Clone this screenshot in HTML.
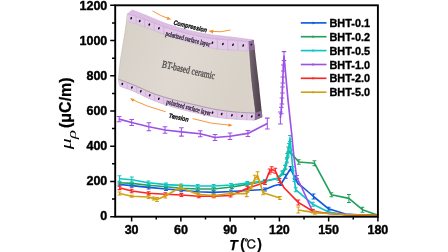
<!DOCTYPE html>
<html><head><meta charset="utf-8"><title>BHT flexoelectric chart</title>
<style>html,body{margin:0;padding:0;background:#fff;overflow:hidden}body{width:448px;height:252px;position:relative}</style>
</head><body>
<svg width="448" height="252" viewBox="0 0 448 252" style="position:absolute;left:0;top:0;display:block;filter:blur(0.3px)">
<rect width="448" height="252" fill="#fff"/>
<defs><linearGradient id="gg" x1="0" y1="0" x2="1" y2="0.3"><stop offset="0" stop-color="#d6cfc6"/><stop offset="0.55" stop-color="#dfd9d1"/><stop offset="1" stop-color="#d8d2c9"/></linearGradient><linearGradient id="sg" x1="0" y1="0" x2="1" y2="0"><stop offset="0" stop-color="#7c6d78"/><stop offset="0.6" stop-color="#5a4c57"/><stop offset="1" stop-color="#4b3f49"/></linearGradient></defs>
<path d="M131.9,9.8C134.5,10.8 142.3,13.8 147.7,15.9C153.0,18.1 159.1,20.8 164.0,22.7C168.9,24.6 172.8,25.7 177.0,27.0C181.2,28.3 184.2,29.2 189.4,30.4C194.6,31.6 202.9,33.3 208.0,34.2C213.1,35.1 215.8,35.3 220.0,35.8C224.2,36.3 227.8,36.6 233.4,37.3C239.0,38.0 250.3,39.5 253.7,39.9L248.0,41.8C245.6,41.5 238.1,40.6 233.4,40.2C228.7,39.8 224.2,39.7 220.0,39.3C215.8,38.9 213.1,38.9 208.0,38.0C202.9,37.1 195.4,35.5 189.4,34.0C183.4,32.5 177.2,30.9 172.0,29.3C166.8,27.7 163.0,26.4 157.9,24.5C152.8,22.6 146.5,20.0 141.4,18.2C136.3,16.4 129.7,14.5 127.3,13.8Z" fill="#ddbde3"/>
<path d="M127.4,21.2C129.7,21.9 136.3,23.9 141.4,25.7C146.5,27.5 152.8,30.1 157.9,32.0C163.0,33.9 166.8,35.3 172.0,37.0C177.2,38.7 183.4,40.6 189.4,42.3C195.4,44.0 203.4,46.2 208.0,47.3C212.6,48.4 212.8,48.5 217.0,49.0C221.2,49.5 228.2,49.9 233.4,50.2C238.6,50.5 245.8,50.9 248.3,51.0C248.4,50.8 248.1,44.8 248.6,50.0C249.1,55.2 250.0,71.5 251.1,82.0C252.2,92.5 254.3,107.8 254.9,113.0L254.9,113.0C251.6,112.8 241.5,112.6 235.0,112.0C228.5,111.4 221.8,110.5 216.0,109.5C210.2,108.5 204.8,107.1 200.0,106.0C195.2,104.9 191.7,104.1 187.0,103.0C182.3,101.9 177.5,100.8 172.0,99.3C166.5,97.8 160.3,96.1 154.1,93.8C147.9,91.5 140.9,87.9 135.0,85.5C129.1,83.1 121.2,80.2 118.5,79.2C118.8,76.3 119.1,70.2 120.2,62.0C121.4,53.8 124.1,38.0 125.3,30.0C126.5,22.0 127.0,16.5 127.3,13.8Z" fill="url(#gg)"/>
<path d="M127.3,13.8C129.7,14.5 136.3,16.4 141.4,18.2C146.5,20.0 152.8,22.6 157.9,24.5C163.0,26.4 166.8,27.7 172.0,29.3C177.2,30.9 183.4,32.5 189.4,34.0C195.4,35.5 202.9,37.1 208.0,38.0C213.1,38.9 215.8,38.9 220.0,39.3C224.2,39.7 228.7,39.8 233.4,40.2C238.1,40.6 245.6,41.5 248.0,41.8L248.3,51C245.8,50.9 238.6,50.5 233.4,50.2C228.2,49.9 221.2,49.5 217.0,49.0C212.8,48.5 212.6,48.4 208.0,47.3C203.4,46.2 195.4,44.0 189.4,42.3C183.4,40.6 177.2,38.7 172.0,37.0C166.8,35.3 163.0,33.9 157.9,32.0C152.8,30.1 146.5,27.5 141.4,25.7C136.3,23.9 129.7,21.9 127.4,21.2Z" fill="#e2c9e8"/>
<path d="M118.5,79.2C121.2,80.2 129.1,83.1 135.0,85.5C140.9,87.9 147.9,91.5 154.1,93.8C160.3,96.1 166.5,97.8 172.0,99.3C177.5,100.8 182.3,101.9 187.0,103.0C191.7,104.1 195.2,104.9 200.0,106.0C204.8,107.1 210.2,108.5 216.0,109.5C221.8,110.5 228.5,111.4 235.0,112.0C241.5,112.6 251.6,112.8 254.9,113.0L254.7,120.2C251.4,120.0 241.4,119.7 235.0,119.2C228.6,118.7 221.8,118.1 216.0,117.2C210.2,116.3 204.8,115.0 200.0,113.9C195.2,112.8 191.7,112.0 187.0,110.8C182.3,109.6 177.5,108.4 172.0,106.7C166.5,105.0 160.3,103.3 154.1,100.8C147.9,98.3 140.7,94.3 135.0,91.9C129.3,89.5 122.3,87.2 119.8,86.2Z" fill="#e2c9e8"/>
<path d="M118.5,79.2C121.2,80.2 129.1,83.1 135.0,85.5C140.9,87.9 147.9,91.5 154.1,93.8C160.3,96.1 166.5,97.8 172.0,99.3C177.5,100.8 182.3,101.9 187.0,103.0C191.7,104.1 195.2,104.9 200.0,106.0C204.8,107.1 210.2,108.5 216.0,109.5C221.8,110.5 228.5,111.4 235.0,112.0C241.5,112.6 251.6,112.8 254.9,113.0" fill="none" stroke="#8c8088" stroke-width="0.7"/>
<path d="M127.4,21.2C129.7,21.9 136.3,23.9 141.4,25.7C146.5,27.5 152.8,30.1 157.9,32.0C163.0,33.9 166.8,35.3 172.0,37.0C177.2,38.7 183.4,40.6 189.4,42.3C195.4,44.0 203.4,46.2 208.0,47.3C212.6,48.4 212.8,48.5 217.0,49.0C221.2,49.5 228.2,49.9 233.4,50.2C238.6,50.5 245.8,50.9 248.3,51.0" fill="none" stroke="#b9a6be" stroke-width="0.5"/>
<path d="M127.3,13.8C129.7,14.5 136.3,16.4 141.4,18.2C146.5,20.0 152.8,22.6 157.9,24.5C163.0,26.4 166.8,27.7 172.0,29.3C177.2,30.9 183.4,32.5 189.4,34.0C195.4,35.5 202.9,37.1 208.0,38.0C213.1,38.9 215.8,38.9 220.0,39.3C224.2,39.7 228.7,39.8 233.4,40.2C238.1,40.6 245.6,41.5 248.0,41.8" fill="none" stroke="#c4a2ce" stroke-width="0.7"/>
<path d="M131.9,9.8C134.5,10.8 142.3,13.8 147.7,15.9C153.0,18.1 159.1,20.8 164.0,22.7C168.9,24.6 172.8,25.7 177.0,27.0C181.2,28.3 184.2,29.2 189.4,30.4C194.6,31.6 202.9,33.3 208.0,34.2C213.1,35.1 215.8,35.3 220.0,35.8C224.2,36.3 227.8,36.6 233.4,37.3C239.0,38.0 250.3,39.5 253.7,39.9" fill="none" stroke="#d0b2d9" stroke-width="0.6"/>
<path d="M119.8,86.2C122.3,87.2 129.3,89.5 135.0,91.9C140.7,94.3 147.9,98.3 154.1,100.8C160.3,103.3 166.5,105.0 172.0,106.7C177.5,108.4 182.3,109.6 187.0,110.8C191.7,112.0 195.2,112.8 200.0,113.9C204.8,115.0 210.2,116.3 216.0,117.2C221.8,118.1 228.6,118.7 235.0,119.2C241.4,119.7 251.4,120.0 254.7,120.2" fill="none" stroke="#bfa0cc" stroke-width="0.5"/>
<path d="M127.3,13.8C127.0,16.5 126.5,22.0 125.3,30.0C124.1,38.0 121.4,53.8 120.2,62.0C119.1,70.2 118.6,75.2 118.5,79.2C118.4,83.2 119.6,85.0 119.8,86.2" fill="none" stroke="#bdb6b0" stroke-width="0.6"/>
<path d="M248.0,41.8C248.1,43.2 248.1,43.3 248.6,50.0C249.1,56.7 250.0,71.5 251.1,82.0C252.2,92.5 254.3,106.6 254.9,113.0C255.5,119.4 254.7,119.0 254.7,120.2L262,117.2L262.3,116.5C261.9,112.9 260.6,100.8 260.0,95.0C259.4,89.2 259.6,89.5 258.7,82.0C257.8,74.5 255.7,57.0 254.9,50.0C254.1,43.0 253.9,41.6 253.7,39.9L248,41.8Z" fill="url(#sg)"/>
<path d="M248,41.8L253.7,39.9L254.9,49.4L248.5,51Z" fill="#8d6d98"/>
<path d="M254.9,113L261.9,110.5L262.3,116.5L262,117.2L254.7,120.2Z" fill="#8d6d98"/>
<path d="M248.0,41.8C248.1,43.2 248.1,43.3 248.6,50.0C249.1,56.7 250.0,71.5 251.1,82.0C252.2,92.5 254.3,107.8 254.9,113.0" fill="none" stroke="#ece6e2" stroke-width="0.7"/>
<circle cx="251.3" cy="44.6" r="0.9" fill="#1a1018"/><circle cx="259" cy="115" r="0.9" fill="#1a1018"/>
<path d="M136.0,16.5L136.2,24.0M144.5,19.4L144.7,26.9M154.1,23.0L154.3,30.5M163.7,26.5L163.9,34.1M217.2,39.0L217.4,49.0M227.7,39.8L227.9,49.8M237.8,40.7L238.0,50.4M248.0,41.8L248.2,51.0M127.1,82.5L127.3,88.9M136.7,86.2L136.9,92.7M145.6,90.1L145.8,96.8M154.5,93.9L154.7,100.9M163.6,96.7L163.8,103.9M217.3,109.7L217.5,117.3M226.5,110.9L226.7,118.3M236.7,112.1L236.9,119.3M246.8,112.6L247.0,119.8" stroke="#c9a9d4" stroke-width="0.7" fill="none"/>
<ellipse cx="131.2" cy="18.3" rx="0.85" ry="1.3" transform="rotate(22 131.2 18.3)" fill="#160c18"/>
<ellipse cx="139.7" cy="21.0" rx="0.85" ry="1.3" transform="rotate(22 139.7 21.0)" fill="#160c18"/>
<ellipse cx="149.3" cy="24.6" rx="0.85" ry="1.3" transform="rotate(22 149.3 24.6)" fill="#160c18"/>
<ellipse cx="158.9" cy="28.2" rx="0.85" ry="1.3" transform="rotate(22 158.9 28.2)" fill="#160c18"/>
<ellipse cx="212.4" cy="42.8" rx="0.85" ry="1.3" transform="rotate(22 212.4 42.8)" fill="#160c18"/>
<ellipse cx="222.9" cy="44.0" rx="0.85" ry="1.3" transform="rotate(22 222.9 44.0)" fill="#160c18"/>
<ellipse cx="233.0" cy="44.7" rx="0.85" ry="1.3" transform="rotate(22 233.0 44.7)" fill="#160c18"/>
<ellipse cx="243.2" cy="45.5" rx="0.85" ry="1.3" transform="rotate(22 243.2 45.5)" fill="#160c18"/>
<ellipse cx="122.3" cy="83.9" rx="0.85" ry="1.3" transform="rotate(22 122.3 83.9)" fill="#160c18"/>
<ellipse cx="131.9" cy="87.5" rx="0.85" ry="1.3" transform="rotate(22 131.9 87.5)" fill="#160c18"/>
<ellipse cx="140.8" cy="91.3" rx="0.85" ry="1.3" transform="rotate(22 140.8 91.3)" fill="#160c18"/>
<ellipse cx="149.7" cy="95.3" rx="0.85" ry="1.3" transform="rotate(22 149.7 95.3)" fill="#160c18"/>
<ellipse cx="158.8" cy="98.8" rx="0.85" ry="1.3" transform="rotate(22 158.8 98.8)" fill="#160c18"/>
<ellipse cx="212.5" cy="112.6" rx="0.85" ry="1.3" transform="rotate(22 212.5 112.6)" fill="#160c18"/>
<ellipse cx="221.7" cy="114.0" rx="0.85" ry="1.3" transform="rotate(22 221.7 114.0)" fill="#160c18"/>
<ellipse cx="231.9" cy="115.2" rx="0.85" ry="1.3" transform="rotate(22 231.9 115.2)" fill="#160c18"/>
<ellipse cx="242.0" cy="116.0" rx="0.85" ry="1.3" transform="rotate(22 242.0 116.0)" fill="#160c18"/>
<ellipse cx="251.8" cy="116.4" rx="0.85" ry="1.3" transform="rotate(22 251.8 116.4)" fill="#160c18"/>
<text transform="translate(165.2,35.5) rotate(14) scale(0.74,1)" font-family="Liberation Serif, serif" font-size="6.8" fill="#3b2f43" stroke="#3b2f43" stroke-width="0.35">polarized surface layer</text>
<text transform="translate(166,103.7) rotate(15) scale(0.74,1)" font-family="Liberation Serif, serif" font-size="6.8" fill="#3b2f43" stroke="#3b2f43" stroke-width="0.35">polarized surface layer</text>
<text transform="translate(161.5,67.2) rotate(12.9) scale(0.73,1)" font-family="Liberation Serif, serif" font-size="10.3" fill="#4c4a4a" stroke="#4c4a4a" stroke-width="0.3">BT-based ceramic</text>
<text transform="translate(173.2,24.6) rotate(13.4) scale(0.80,1)" font-family="Liberation Sans, sans-serif" font-weight="bold" font-style="italic" font-size="6.7" fill="#0a0a0a" stroke="#0a0a0a" stroke-width="0.28">Compression</text>
<text transform="translate(168.5,117.7) rotate(12) scale(0.79,1)" font-family="Liberation Sans, sans-serif" font-weight="bold" font-style="italic" font-size="6.7" fill="#0a0a0a" stroke="#0a0a0a" stroke-width="0.28">Tension</text>
<path d="M152.8,11.1Q160,15.8 168.3,18.5" fill="none" stroke="#f28c28" stroke-width="0.9" stroke-linecap="round"/><path d="M171.2,19.4L166.7,19.8L167.7,16.5Z" fill="#f28c28"/>
<path d="M230.2,30.1Q221,32.8 211.5,31.4" fill="none" stroke="#f28c28" stroke-width="0.9" stroke-linecap="round"/><path d="M208.6,30.9L213.4,29.7L212.9,33.4Z" fill="#f28c28"/>
<path d="M165.4,111.7Q146,106.5 132.3,99.6" fill="none" stroke="#f28c28" stroke-width="0.9" stroke-linecap="round"/><path d="M130.0,98.2L134.5,98.9L132.7,101.8Z" fill="#f28c28"/>
<path d="M193.1,118.75Q211,124.3 230,125.2" fill="none" stroke="#f28c28" stroke-width="0.9" stroke-linecap="round"/><path d="M232.6,125.3L228.3,126.8L228.5,123.4Z" fill="#f28c28"/>
<g clip-path="url(#plotclip)">
<clipPath id="plotclip"><rect x="114" y="4" width="265" height="213"/></clipPath>
<path d="M119.5,184.5 L131.7,185.6 L148.6,187.4 L166.0,189.0 L181.2,190.2 L197.7,191.8 L213.6,192.4 L231.0,191.5 L247.3,190.5 L265.0,189.5 L274.0,185.7 L281.0,184.0 L285.8,176.2 L290.6,168.6 L294.9,178.0 L298.2,184.0 L302.0,186.5 L313.5,196.5 L328.6,208.8 L345.5,214.0 L362.0,215.0 L378.0,215.5" fill="none" stroke="#1058e2" stroke-width="1.65" stroke-linejoin="round"/>
<path d="M119.5,183.0V186.0M117.6,183.0H121.4M117.6,186.0H121.4M131.7,184.1V187.1M129.8,184.1H133.6M129.8,187.1H133.6M148.6,185.9V188.9M146.7,185.9H150.5M146.7,188.9H150.5M166.0,187.5V190.5M164.1,187.5H167.9M164.1,190.5H167.9M181.2,188.8V191.8M179.3,188.8H183.1M179.3,191.8H183.1M197.7,190.3V193.3M195.8,190.3H199.6M195.8,193.3H199.6M213.6,190.9V193.9M211.7,190.9H215.5M211.7,193.9H215.5M231.0,190.0V193.0M229.1,190.0H232.9M229.1,193.0H232.9M247.3,189.0V192.0M245.4,189.0H249.2M245.4,192.0H249.2M265.0,188.0V191.0M263.1,188.0H266.9M263.1,191.0H266.9M281.0,182.5V185.5M279.1,182.5H282.9M279.1,185.5H282.9M285.8,174.2V178.2M283.9,174.2H287.7M283.9,178.2H287.7M290.6,166.6V170.6M288.7,166.6H292.5M288.7,170.6H292.5M294.9,176.5V179.5M293.0,176.5H296.8M293.0,179.5H296.8M313.5,194.0V199.0M311.6,194.0H315.4M311.6,199.0H315.4M328.6,207.2V210.2M326.7,207.2H330.5M326.7,210.2H330.5" fill="none" stroke="#1058e2" stroke-width="1.05"/>
<path d="M119.5,182.7 L131.7,183.4 L148.6,185.3 L166.0,186.7 L181.2,188.2 L197.7,189.0 L213.6,189.0 L232.0,187.0 L247.3,184.4 L265.0,181.2 L278.5,178.3 L283.5,172.5 L285.6,167.0 L286.6,161.0 L287.4,155.5 L288.3,150.0 L298.8,162.0 L314.4,163.2 L331.4,194.7 L348.9,198.4 L362.4,209.7 L378.0,215.3" fill="none" stroke="#22a05e" stroke-width="1.65" stroke-linejoin="round"/>
<path d="M119.5,181.2V184.2M117.6,181.2H121.4M117.6,184.2H121.4M131.7,181.9V184.9M129.8,181.9H133.6M129.8,184.9H133.6M148.6,183.8V186.8M146.7,183.8H150.5M146.7,186.8H150.5M166.0,185.2V188.2M164.1,185.2H167.9M164.1,188.2H167.9M181.2,186.7V189.7M179.3,186.7H183.1M179.3,189.7H183.1M197.7,187.5V190.5M195.8,187.5H199.6M195.8,190.5H199.6M213.6,187.5V190.5M211.7,187.5H215.5M211.7,190.5H215.5M232.0,185.5V188.5M230.1,185.5H233.9M230.1,188.5H233.9M247.3,182.9V185.9M245.4,182.9H249.2M245.4,185.9H249.2M265.0,179.7V182.7M263.1,179.7H266.9M263.1,182.7H266.9M278.5,176.3V180.3M276.6,176.3H280.4M276.6,180.3H280.4M283.5,170.5V174.5M281.6,170.5H285.4M281.6,174.5H285.4M285.6,165.0V169.0M283.7,165.0H287.5M283.7,169.0H287.5M286.6,159.0V163.0M284.7,159.0H288.5M284.7,163.0H288.5M287.4,153.5V157.5M285.5,153.5H289.3M285.5,157.5H289.3M288.3,147.0V153.0M286.4,147.0H290.2M286.4,153.0H290.2M298.8,159.7V164.3M296.9,159.7H300.7M296.9,164.3H300.7M314.4,160.7V165.7M312.5,160.7H316.3M312.5,165.7H316.3M331.4,192.7V196.7M329.5,192.7H333.3M329.5,196.7H333.3M348.9,194.4V202.4M347.0,194.4H350.8M347.0,202.4H350.8M362.4,207.2V212.2M360.5,207.2H364.3M360.5,212.2H364.3" fill="none" stroke="#22a05e" stroke-width="1.05"/>
<path d="M119.5,178.8 L131.8,179.7 L148.4,182.7 L166.0,184.6 L181.2,185.4 L197.7,186.0 L213.6,186.0 L231.0,185.0 L247.3,183.1 L265.0,181.0 L278.5,178.0 L282.0,173.0 L285.0,167.4 L287.0,160.0 L288.0,154.0 L289.0,146.0 L290.0,138.5 L291.3,152.0 L292.8,168.7 L294.4,180.0 L295.7,189.7 L312.9,204.3 L328.6,212.0 L345.0,214.5 L378.0,215.5" fill="none" stroke="#0ac6c3" stroke-width="1.65" stroke-linejoin="round"/>
<path d="M119.5,175.8V181.8M117.6,175.8H121.4M117.6,181.8H121.4M131.8,176.9V182.5M129.9,176.9H133.7M129.9,182.5H133.7M148.4,180.9V184.5M146.5,180.9H150.3M146.5,184.5H150.3M166.0,183.1V186.1M164.1,183.1H167.9M164.1,186.1H167.9M181.2,183.9V186.9M179.3,183.9H183.1M179.3,186.9H183.1M197.7,184.5V187.5M195.8,184.5H199.6M195.8,187.5H199.6M213.6,184.5V187.5M211.7,184.5H215.5M211.7,187.5H215.5M231.0,183.5V186.5M229.1,183.5H232.9M229.1,186.5H232.9M247.3,181.6V184.6M245.4,181.6H249.2M245.4,184.6H249.2M265.0,179.5V182.5M263.1,179.5H266.9M263.1,182.5H266.9M278.5,176.0V180.0M276.6,176.0H280.4M276.6,180.0H280.4M282.0,171.0V175.0M280.1,171.0H283.9M280.1,175.0H283.9M285.0,165.4V169.4M283.1,165.4H286.9M283.1,169.4H286.9M287.0,158.0V162.0M285.1,158.0H288.9M285.1,162.0H288.9M288.0,152.0V156.0M286.1,152.0H289.9M286.1,156.0H289.9M289.0,143.5V148.5M287.1,143.5H290.9M287.1,148.5H290.9M290.0,135.5V141.5M288.1,135.5H291.9M288.1,141.5H291.9M291.3,150.0V154.0M289.4,150.0H293.2M289.4,154.0H293.2M292.8,166.7V170.7M290.9,166.7H294.7M290.9,170.7H294.7M294.4,178.5V181.5M292.5,178.5H296.3M292.5,181.5H296.3M295.7,187.7V191.7M293.8,187.7H297.6M293.8,191.7H297.6M312.9,202.3V206.3M311.0,202.3H314.8M311.0,206.3H314.8M328.6,211.0V213.0M326.7,211.0H330.5M326.7,213.0H330.5" fill="none" stroke="#0ac6c3" stroke-width="1.05"/>
<path d="M119.1,119.1 L131.7,122.5 L148.9,126.8 L165.0,130.0 L181.4,131.9 L200.3,133.8 L215.0,137.5 L230.0,136.2 L247.9,133.4 L267.3,123.5" fill="none" stroke="#9d52e4" stroke-width="1.65" stroke-linejoin="round"/>
<path d="M119.1,116.5V121.7M116.8,116.5H121.4M116.8,121.7H121.4M131.7,119.5V125.5M129.4,119.5H134.0M129.4,125.5H134.0M148.9,122.8V130.8M146.6,122.8H151.2M146.6,130.8H151.2M165.0,126.7V133.3M162.7,126.7H167.3M162.7,133.3H167.3M181.4,127.7V136.1M179.1,127.7H183.7M179.1,136.1H183.7M200.3,130.8V136.8M198.0,130.8H202.6M198.0,136.8H202.6M215.0,134.5V140.5M212.7,134.5H217.3M212.7,140.5H217.3M230.0,133.0V139.4M227.7,133.0H232.3M227.7,139.4H232.3M247.9,130.4V136.4M245.6,130.4H250.2M245.6,136.4H250.2M267.3,118.1V128.9M265.0,118.1H269.6M265.0,128.9H269.6" fill="none" stroke="#9d52e4" stroke-width="1.05"/>
<path d="M280.4,118.0 L281.3,110.5 L281.9,101.0 L282.4,90.0 L282.8,80.0 L283.3,68.0 L284.0,56.0 L288.0,100.0 L291.5,132.0 L293.8,156.0 L296.6,177.0 L302.0,188.0 L312.2,210.7 L316.4,212.5 L345.0,214.5 L378.0,215.5" fill="none" stroke="#9d52e4" stroke-width="1.65" stroke-linejoin="round"/>
<path d="M280.4,112.0V124.0M278.1,112.0H282.7M278.1,124.0H282.7M281.3,107.3V113.7M279.0,107.3H283.6M279.0,113.7H283.6M281.9,98.0V104.0M279.6,98.0H284.2M279.6,104.0H284.2M282.4,87.0V93.0M280.1,87.0H284.7M280.1,93.0H284.7M282.8,77.0V83.0M280.5,77.0H285.1M280.5,83.0H285.1M283.3,65.0V71.0M281.0,65.0H285.6M281.0,71.0H285.6M284.0,51.6V60.4M281.7,51.6H286.3M281.7,60.4H286.3M296.6,175.5V178.5M294.3,175.5H298.9M294.3,178.5H298.9M312.2,209.2V212.2M309.9,209.2H314.6M309.9,212.2H314.6" fill="none" stroke="#9d52e4" stroke-width="1.05"/>
<path d="M119.5,187.8 L131.7,191.0 L148.6,193.2 L165.4,194.3 L181.4,195.0 L198.8,196.3 L213.8,196.2 L230.6,195.5 L247.5,188.2 L265.0,182.5 L269.6,171.4 L271.7,169.5 L275.3,170.8 L279.6,180.5 L284.3,188.0 L298.3,202.4 L312.9,211.3 L328.6,213.5 L345.0,214.5 L378.0,215.5" fill="none" stroke="#ff2424" stroke-width="1.65" stroke-linejoin="round"/>
<path d="M119.5,186.0V189.6M117.6,186.0H121.4M117.6,189.6H121.4M131.7,189.2V192.8M129.8,189.2H133.6M129.8,192.8H133.6M148.6,191.7V194.7M146.7,191.7H150.5M146.7,194.7H150.5M165.4,192.8V195.8M163.5,192.8H167.3M163.5,195.8H167.3M181.4,193.5V196.5M179.5,193.5H183.3M179.5,196.5H183.3M198.8,194.8V197.8M196.8,194.8H200.7M196.8,197.8H200.7M213.8,194.7V197.7M211.8,194.7H215.7M211.8,197.7H215.7M230.6,194.0V197.0M228.7,194.0H232.5M228.7,197.0H232.5M247.5,186.2V190.2M245.6,186.2H249.4M245.6,190.2H249.4M265.0,180.5V184.5M263.1,180.5H266.9M263.1,184.5H266.9M269.6,168.9V173.9M267.7,168.9H271.5M267.7,173.9H271.5M271.7,166.7V172.3M269.8,166.7H273.6M269.8,172.3H273.6M275.3,168.3V173.3M273.4,168.3H277.2M273.4,173.3H277.2M279.6,178.5V182.5M277.7,178.5H281.5M277.7,182.5H281.5M298.3,199.9V204.9M296.4,199.9H300.2M296.4,204.9H300.2M312.9,209.8V212.8M311.0,209.8H314.8M311.0,212.8H314.8" fill="none" stroke="#ff2424" stroke-width="1.05"/>
<path d="M119.5,193.5 L131.7,196.2 L148.6,197.0 L153.6,198.4 L157.0,199.4 L165.4,196.0 L180.0,187.5 L197.7,194.3 L213.6,195.5 L230.6,193.5 L246.8,193.6 L251.6,186.3 L254.8,178.7 L257.6,175.5 L263.1,192.7 L279.9,198.0" fill="none" stroke="#d2a012" stroke-width="1.65" stroke-linejoin="round"/>
<path d="M119.5,192.0V195.0M117.6,192.0H121.4M117.6,195.0H121.4M131.7,195.2V197.2M129.8,195.2H133.6M129.8,197.2H133.6M148.6,195.5V198.5M146.7,195.5H150.5M146.7,198.5H150.5M153.6,196.9V199.9M151.7,196.9H155.5M151.7,199.9H155.5M157.0,197.4V201.4M155.1,197.4H158.9M155.1,201.4H158.9M165.4,194.0V198.0M163.5,194.0H167.3M163.5,198.0H167.3M180.0,185.0V190.0M178.1,185.0H181.9M178.1,190.0H181.9M197.7,192.8V195.8M195.8,192.8H199.6M195.8,195.8H199.6M213.6,194.0V197.0M211.7,194.0H215.5M211.7,197.0H215.5M230.6,192.0V195.0M228.7,192.0H232.5M228.7,195.0H232.5M246.8,190.6V196.6M244.9,190.6H248.7M244.9,196.6H248.7M251.6,183.3V189.3M249.7,183.3H253.5M249.7,189.3H253.5M254.8,175.2V182.2M252.9,175.2H256.7M252.9,182.2H256.7M257.6,171.7V179.3M255.7,171.7H259.5M255.7,179.3H259.5M263.1,190.7V194.7M261.2,190.7H265.0M261.2,194.7H265.0M279.9,196.5V199.5M278.0,196.5H281.8M278.0,199.5H281.8" fill="none" stroke="#d2a012" stroke-width="1.05"/>
<path d="M298.3,210.0 L314.8,212.6 L328.6,213.5 L345.0,214.5 L378.0,215.5" fill="none" stroke="#d2a012" stroke-width="1.65" stroke-linejoin="round"/>
<path d="M298.3,207.0V213.0M296.4,207.0H300.2M296.4,213.0H300.2M314.8,211.1V214.1M312.9,211.1H316.7M312.9,214.1H316.7" fill="none" stroke="#d2a012" stroke-width="1.05"/>
</g>
<rect x="115.2" y="5.3" width="262.7" height="211.4" fill="none" stroke="#000" stroke-width="1.9"/>
<path d="M110.2,216.70H115.2M112.0,199.08H115.2M110.2,181.47H115.2M112.0,163.85H115.2M110.2,146.23H115.2M112.0,128.62H115.2M110.2,111.00H115.2M112.0,93.38H115.2M110.2,75.77H115.2M112.0,58.15H115.2M110.2,40.53H115.2M112.0,22.92H115.2M110.2,5.30H115.2M131.62,216.7V221.6M156.25,216.7V219.5M180.88,216.7V221.6M205.50,216.7V219.5M230.13,216.7V221.6M254.76,216.7V219.5M279.39,216.7V221.6M304.02,216.7V219.5M328.64,216.7V221.6M353.27,216.7V219.5M377.90,216.7V221.6" stroke="#000" stroke-width="1.5" fill="none"/>
<g font-family="Liberation Sans, Arial, sans-serif" font-weight="bold" font-size="12.5" fill="#000" stroke="#000" stroke-width="0.4">
<text x="107.3" y="9.7" text-anchor="end">1200</text>
<text x="107.3" y="44.8" text-anchor="end">1000</text>
<text x="107.3" y="79.9" text-anchor="end">800</text>
<text x="107.3" y="115.0" text-anchor="end">600</text>
<text x="107.3" y="150.1" text-anchor="end">400</text>
<text x="107.3" y="185.2" text-anchor="end">200</text>
<text x="107.3" y="220.4" text-anchor="end">0</text>
<text x="131.6" y="233.5" text-anchor="middle">30</text>
<text x="180.9" y="233.5" text-anchor="middle">60</text>
<text x="230.1" y="233.5" text-anchor="middle">90</text>
<text x="279.4" y="233.5" text-anchor="middle">120</text>
<text x="328.6" y="233.5" text-anchor="middle">150</text>
<text x="377.9" y="233.5" text-anchor="middle">180</text>
</g>
<g font-family="Liberation Sans, Arial, sans-serif" font-size="13.8" fill="#000" font-weight="bold" stroke="#000" stroke-width="0.25"><text x="229.3" y="249.6" font-style="italic">T</text><text x="240.2" y="249.3">(</text><text x="244.2" y="249.4" font-weight="normal" font-family="Liberation Sans, IPAGothic, 'Noto Sans CJK JP', sans-serif" font-size="12.6" stroke="#000" stroke-width="0.3">℃</text><text x="257.3" y="249.3">)</text></g>
<g transform="translate(71,150) rotate(-90)" fill="#000"><text transform="translate(0.7,0) scale(1.52,1)" font-family="Liberation Serif, serif" font-style="italic" font-size="14.5">μ</text><text transform="translate(10.9,5) scale(1.45,1)" font-family="Liberation Serif, serif" font-style="italic" font-size="13">ρ</text><text x="22" y="0" font-family="Liberation Sans, Arial, sans-serif" font-size="16" font-weight="bold" stroke="#000" stroke-width="0.25">(μC/m)</text></g>
<g font-family="Liberation Sans, Arial, sans-serif" font-weight="bold" font-size="10.9" fill="#000" stroke="#000" stroke-width="0.35">
<path d="M300.8,22.9H326.5" stroke="#1058e2" stroke-width="1.65" fill="none"/>
<path d="M312.6,21.4L315,22.9L312.6,24.4Z" fill="#1058e2" stroke="none"/>
<text x="329.5" y="27.0">BHT-0.1</text>
<path d="M300.8,36.7H326.5" stroke="#22a05e" stroke-width="1.65" fill="none"/>
<path d="M312.6,35.2L315,36.7L312.6,38.2Z" fill="#22a05e" stroke="none"/>
<text x="329.5" y="40.8">BHT-0.2</text>
<path d="M300.8,50.6H326.5" stroke="#0ac6c3" stroke-width="1.65" fill="none"/>
<path d="M312.6,49.1L315,50.6L312.6,52.1Z" fill="#0ac6c3" stroke="none"/>
<text x="329.5" y="54.7">BHT-0.5</text>
<path d="M300.8,64.5H326.5" stroke="#9d52e4" stroke-width="1.65" fill="none"/>
<path d="M312.6,63.0L315,64.5L312.6,66.0Z" fill="#9d52e4" stroke="none"/>
<text x="329.5" y="68.6">BHT-1.0</text>
<path d="M300.8,78.3H326.5" stroke="#ff2424" stroke-width="1.65" fill="none"/>
<path d="M312.6,76.8L315,78.3L312.6,79.8Z" fill="#ff2424" stroke="none"/>
<text x="329.5" y="82.4">BHT-2.0</text>
<path d="M300.8,92.2H326.5" stroke="#d2a012" stroke-width="1.65" fill="none"/>
<path d="M312.6,90.7L315,92.2L312.6,93.7Z" fill="#d2a012" stroke="none"/>
<text x="329.5" y="96.3">BHT-5.0</text>
</g>
</svg>
</body></html>
